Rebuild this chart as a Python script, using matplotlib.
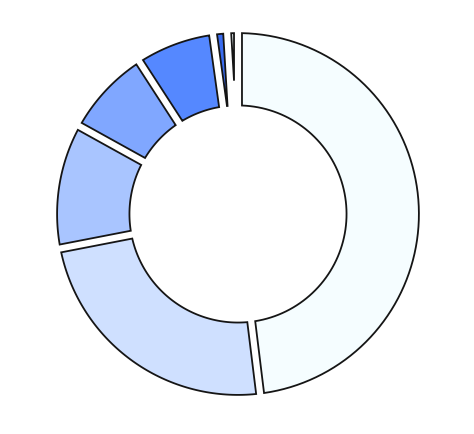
import numpy as np
import matplotlib.pyplot as plt
from matplotlib.patches import Polygon

# DATA (percent, clockwise from 12 o'clock)
shares = [48.05, 23.9, 11.1, 7.8, 6.95, 1.25, 0.95]
colors = ['#f5fdff', '#cfe0ff', '#a9c5ff', '#80a7ff', '#5588ff', '#3a6cf0', '#f5fdff']

R_OUT = 1.0
R_IN = 0.6
HALF_GAP = 0.022


def ring_piece(a1, a2, n=80):
    # ring sector between a1 and a2 (deg), shrunk by a constant half gap on both sides
    t1, t2 = np.radians(a1), np.radians(a2)
    do = np.arcsin(HALF_GAP / R_OUT)
    outer = np.linspace(t1 + do, t2 - do, n)
    pts = [(R_OUT * np.cos(t), R_OUT * np.sin(t)) for t in outer]
    di = np.arcsin(HALF_GAP / R_IN)
    if t2 - t1 > 2 * di:
        inner = np.linspace(t2 - di, t1 + di, n)
        pts += [(R_IN * np.cos(t), R_IN * np.sin(t)) for t in inner]
    else:
        mid = (t1 + t2) / 2
        rho = HALF_GAP / np.sin((t2 - t1) / 2)
        pts.append((rho * np.cos(mid), rho * np.sin(mid)))
    return np.array(pts)


fig = plt.figure(figsize=(4.74, 4.35), dpi=100)
hw = 199 / 474
hh = 199 / 435
ax = fig.add_axes([238 / 474 - hw, (435 - 215) / 435 - hh, 2 * hw, 2 * hh])

cum = np.concatenate([[0], np.cumsum(shares)]) / np.sum(shares) * 360
for i, c in enumerate(colors):
    a1 = 90 - cum[i + 1]
    a2 = 90 - cum[i]
    ax.add_patch(Polygon(ring_piece(a1, a2), closed=True, facecolor=c,
                         edgecolor='#151515', linewidth=1.3, joinstyle='miter'))

ax.set_xlim(-1.1, 1.1)
ax.set_ylim(-1.1, 1.1)
ax.set_aspect('equal')
ax.axis('off')

fig.savefig('out.png', dpi=100)
